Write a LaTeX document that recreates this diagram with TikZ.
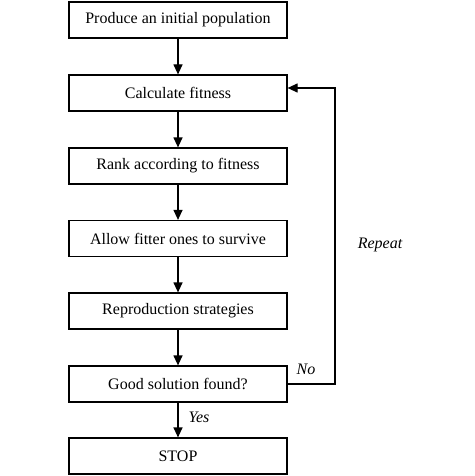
\documentclass[tikz,border=0pt]{standalone}
\usepackage{fontspec}
\setmainfont{Liberation Serif}
\usetikzlibrary{arrows.meta}
\tikzset{
  stepbox/.style={draw, line width=1.2pt, minimum width=218pt, minimum height=36pt, inner sep=0pt, font=\fontsize{16}{19}\selectfont},
  flow/.style={-{Triangle[width=9pt,length=10pt]}, line width=1.2pt},
  lbl/.style={font=\fontsize{16}{19}\selectfont\itshape}
}
\begin{document}
\begin{tikzpicture}[x=1pt,y=-1pt]
\useasboundingbox (0,0) rectangle (474,476);

\node [stepbox] (init) at (178, 20) {Produce an initial population};
\node [stepbox] (fit) at (178, 93) {Calculate fitness};
\node [stepbox] (rank) at (178, 166) {Rank according to fitness};
\node [stepbox] (surv) at (178, 238.5) {Allow fitter ones to survive};
\node [stepbox] (repr) at (178, 311) {Reproduction strategies};
\node [stepbox] (good) at (178, 384) {Good solution found?};
\node [stepbox] (stop) at (178, 456) {STOP};
\coordinate (loopbot) at (335, 384);
\coordinate (looptop) at (335, 88);

\draw[flow] (init) -- (fit);
\draw[flow] (fit) -- (rank);
\draw[flow] (rank) -- (surv);
\draw[flow] (surv) -- (repr);
\draw[flow] (repr) -- (good);
\draw[flow] (good) -- (stop);
\draw[flow] (good.east) -- (loopbot) -- (looptop) -- (fit.east |- looptop);
\node [lbl] (no) at (306, 369) {No};
\node [lbl] (yes) at (199, 417) {Yes};
\node [lbl] (rep) at (380, 245) {Repeat};
\end{tikzpicture}
\end{document}
